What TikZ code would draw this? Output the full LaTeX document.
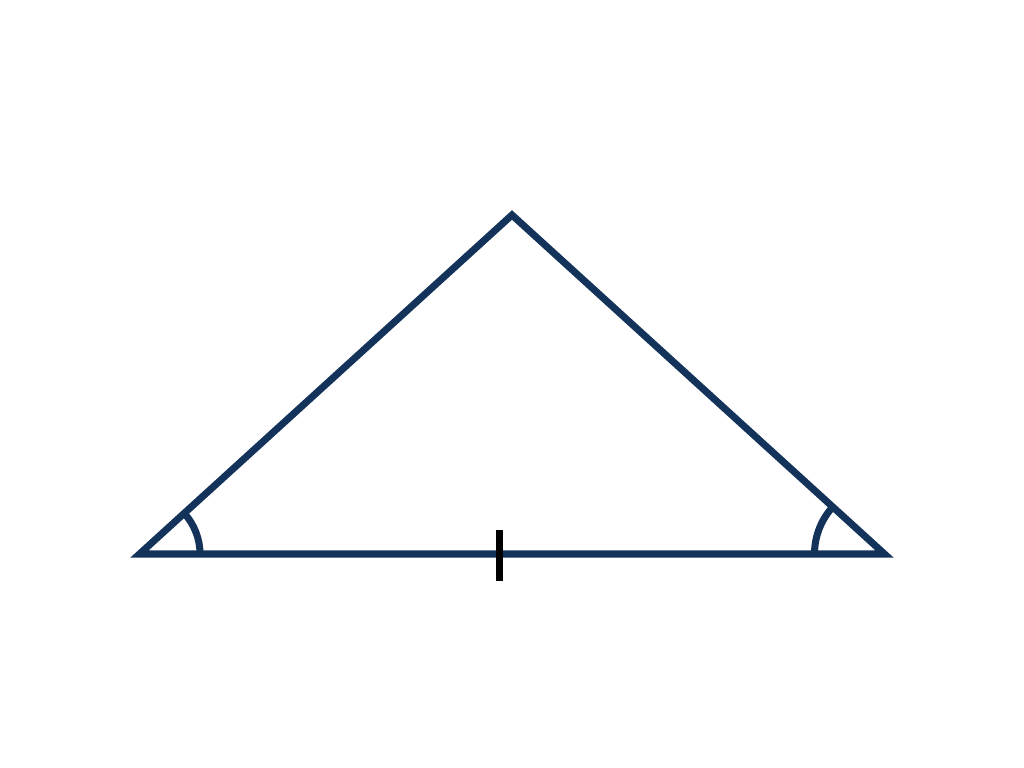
\documentclass[tikz,border=0pt]{standalone}
\usetikzlibrary{calc}
\definecolor{navy}{HTML}{13335A}
\tikzset{side/.style={draw=navy, line width=4pt, miter limit=10},
         anglemark/.style={draw=navy, line width=4pt},
         tickmark/.style={draw=black, line width=4pt}}

\begin{document}
\begin{tikzpicture}
    \useasboundingbox (0,0) rectangle (20.48,15.36);
    % vertices of the triangle
    \coordinate (A) at (2.79,4.28);
    \coordinate (B) at (10.24,11.06);
    \coordinate (C) at (17.69,4.28);

    % angle marks at the base
    \draw[anglemark] ($(A)+(1.21,0)$) arc[start angle=0, end angle=42.3, radius=1.21];
    \draw[anglemark] ($(C)+(-1.40,0)$) arc[start angle=180, end angle=137.7, radius=1.40];

    % the triangle
    \draw[side] (A) -- (B) -- (C) -- cycle;

    % tick on the base
    \coordinate (T1) at (9.99,4.76);
    \coordinate (T2) at (9.99,3.74);
    \draw[tickmark] (T1) -- (T2);
\end{tikzpicture}
\end{document}
